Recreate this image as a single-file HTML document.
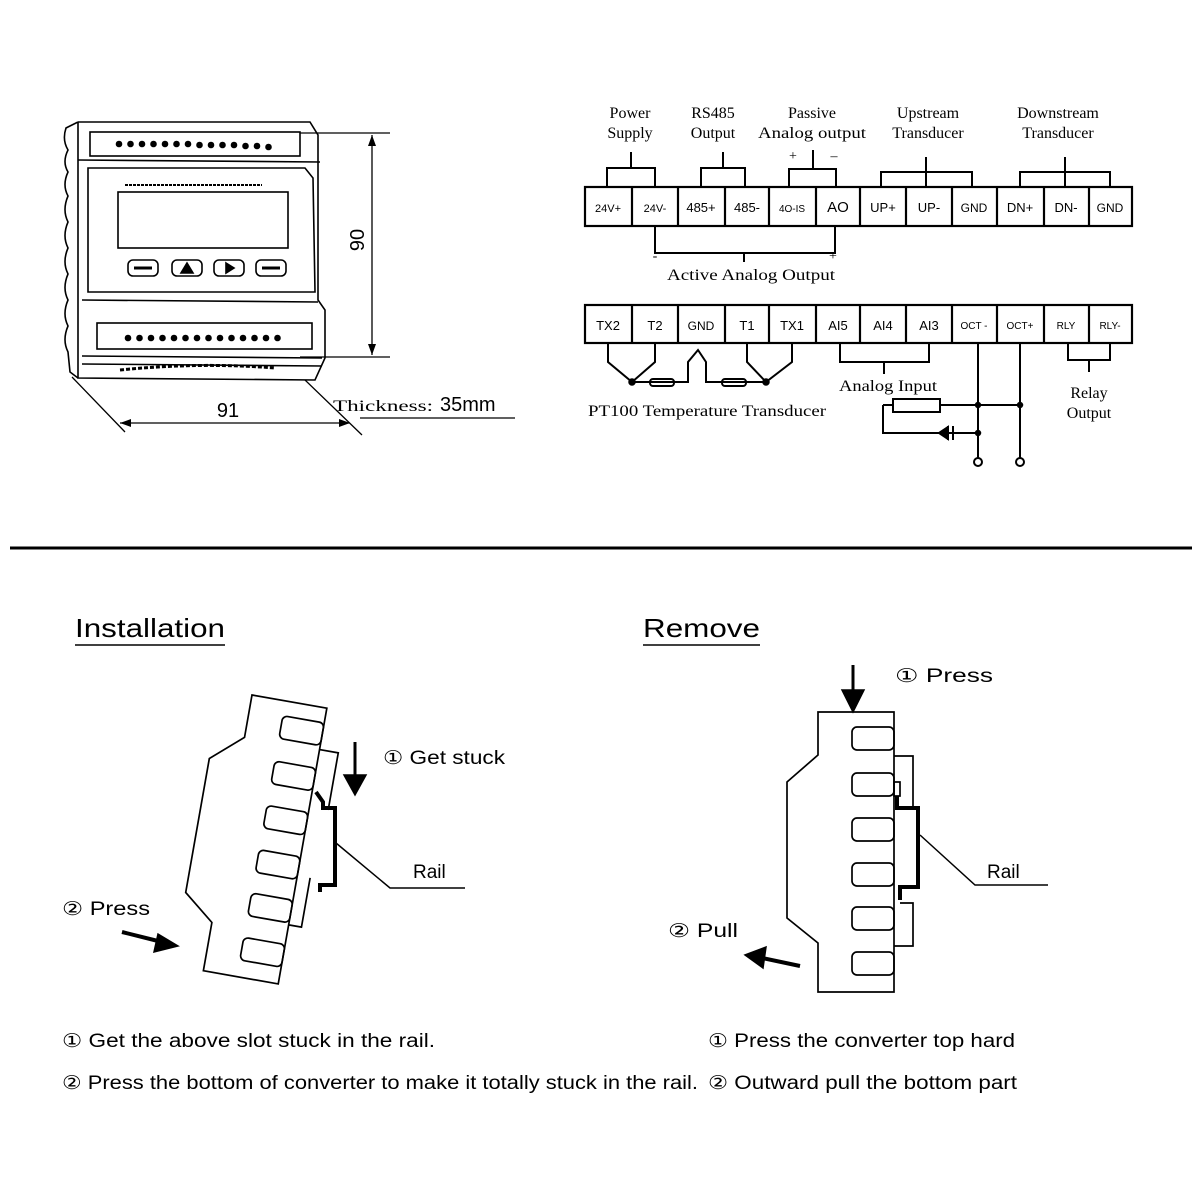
<!DOCTYPE html>
<html><head><meta charset="utf-8"><style>
html,body{margin:0;padding:0;background:#fff;}
svg{display:block;}
.s{font-family:"Liberation Serif",serif;}
.a{font-family:"Liberation Sans",sans-serif;}
</style></head><body>
<svg width="1200" height="1200" viewBox="0 0 1200 1200" xmlns="http://www.w3.org/2000/svg" stroke="#000" fill="none" stroke-width="1.5">
<rect x="0" y="0" width="1200" height="1200" fill="#fff" stroke="none"/>

<g stroke-width="1.6">
  <path d="M78 122 L66 128 Q62 140 68 150 Q62 162 68 172 Q62 185 68 196 Q62 210 68 222 Q62 236 68 248 Q62 262 68 274 Q62 288 68 300 Q62 314 68 326 Q62 340 68 352 L70 372 L78 378"/>
  <path d="M78 122 L310 122 L318 135 L318 300 L325 310 L325 358 L315 380 L78 378 L78 122"/>
  <path d="M78 160 L320 162"/>
  <rect x="90" y="132" width="210" height="24"/>
  <path d="M88 168 L305 168 L313 178 L315 292 L88 292 Z"/>
  <path d="M82 300 L318 302"/>
  <rect x="97" y="323" width="215" height="26"/>
  <path d="M82 356 L322 358"/>
  <path d="M82 364 L322 366"/>
  <rect x="118" y="192" width="170" height="56"/>
  <rect x="128" y="260" width="30" height="16" rx="5"/>
  <rect x="172" y="260" width="30" height="16" rx="5"/>
  <rect x="214" y="260" width="30" height="16" rx="5"/>
  <rect x="256" y="260" width="30" height="16" rx="5"/>
  <path d="M134 268 L152 268" stroke-width="3"/>
  <path d="M187 263 L181 273 L193 273 Z" fill="#000"/>
  <path d="M226 263 L234 268 L226 273 Z" fill="#000"/>
  <path d="M262 268 L280 268" stroke-width="3"/>
  <path d="M125 185 L262 185" stroke-width="2" stroke-dasharray="3 1"/>
  <path d="M120 370 Q200 362 275 368" stroke-width="3" stroke-dasharray="4 2"/>
</g>
<g fill="#000" stroke="none">
  <circle cx="119" cy="144" r="3.3"/><circle cx="130.5" cy="144" r="3.3"/><circle cx="142" cy="144" r="3.3"/><circle cx="153.5" cy="144" r="3.3"/><circle cx="165" cy="144" r="3.3"/><circle cx="176.5" cy="144" r="3.3"/><circle cx="188" cy="144" r="3.3"/><circle cx="199.5" cy="145" r="3.3"/><circle cx="211" cy="145" r="3.3"/><circle cx="222.5" cy="145" r="3.3"/><circle cx="234" cy="145" r="3.3"/><circle cx="245.5" cy="146" r="3.3"/><circle cx="257" cy="146" r="3.3"/><circle cx="268.5" cy="147" r="3.3"/>
  <circle cx="128" cy="338" r="3.3"/><circle cx="139.5" cy="338" r="3.3"/><circle cx="151" cy="338" r="3.3"/><circle cx="162.5" cy="338" r="3.3"/><circle cx="174" cy="338" r="3.3"/><circle cx="185.5" cy="338" r="3.3"/><circle cx="197" cy="338" r="3.3"/><circle cx="208.5" cy="338" r="3.3"/><circle cx="220" cy="338" r="3.3"/><circle cx="231.5" cy="338" r="3.3"/><circle cx="243" cy="338" r="3.3"/><circle cx="254.5" cy="338" r="3.3"/><circle cx="266" cy="338" r="3.3"/><circle cx="277.5" cy="338" r="3.3"/>
</g>
<g stroke-width="1.3">
  <path d="M300 133 L390 133 M300 357 L390 357 M372 135 L372 355"/>
  <path d="M72 377 L125 432 M305 380 L362 435 M120 423 L350 423"/>
  <path d="M360 418 L515 418"/>
</g>
<path d="M372 135 L368 146 L376 146 Z M372 355 L368 344 L376 344 Z M120 423 L131 419 L131 427 Z M350 423 L339 419 L339 427 Z" fill="#000" stroke="none"/>
<text class="a" x="0" y="0" font-size="20" fill="#000" stroke="none" transform="translate(364,240) rotate(-90)" text-anchor="middle">90</text>
<text class="a" x="228" y="417" font-size="20" fill="#000" stroke="none" text-anchor="middle">91</text>
<text class="s" x="333" y="411" font-size="16" fill="#000" stroke="none" textLength="100" lengthAdjust="spacingAndGlyphs">Thickness:</text>
<text class="a" x="440" y="411" font-size="20" fill="#000" stroke="none">35mm</text>

<g class="s" font-size="16" fill="#000" stroke="none" text-anchor="middle">
  <text x="630" y="118">Power</text><text x="630" y="138">Supply</text>
  <text x="713" y="118">RS485</text><text x="713" y="138">Output</text>
  <text x="812" y="118">Passive</text><text x="812" y="138" textLength="108" lengthAdjust="spacingAndGlyphs">Analog output</text>
  <text x="928" y="118">Upstream</text><text x="928" y="138">Transducer</text>
  <text x="1058" y="118">Downstream</text><text x="1058" y="138">Transducer</text>
  <text x="751" y="280" textLength="168" lengthAdjust="spacingAndGlyphs">Active Analog Output</text>
  <text x="707" y="416" textLength="238" lengthAdjust="spacingAndGlyphs">PT100 Temperature Transducer</text>
  <text x="888" y="391" textLength="98" lengthAdjust="spacingAndGlyphs">Analog Input</text>
  <text x="1089" y="398">Relay</text><text x="1089" y="418">Output</text>
  <text x="793" y="160" font-size="14">+</text><text x="834" y="160" font-size="14">–</text>
  <text x="655" y="260" font-size="14">-</text><text x="833" y="260" font-size="14">+</text>
</g>
<g stroke-width="2.2">
  <rect x="585" y="187" width="547" height="39"/>
  <path d="M632 187V226 M678 187V226 M725 187V226 M769 187V226 M816 187V226 M860 187V226 M906 187V226 M952 187V226 M997 187V226 M1044 187V226 M1089 187V226"/>
  <rect x="585" y="305" width="547" height="38"/>
  <path d="M632 305V343 M678 305V343 M725 305V343 M769 305V343 M816 305V343 M860 305V343 M906 305V343 M952 305V343 M997 305V343 M1044 305V343 M1089 305V343"/>
</g>
<g class="a" font-size="13" fill="#000" stroke="none" text-anchor="middle">
  <text x="608" y="212" font-size="11">24V+</text><text x="655" y="212" font-size="11">24V-</text><text x="701" y="212">485+</text><text x="747" y="212">485-</text><text x="792" y="212" font-size="10">4O-IS</text><text x="838" y="212" font-size="15">AO</text><text x="883" y="212">UP+</text><text x="929" y="212">UP-</text><text x="974" y="212" font-size="12">GND</text><text x="1020" y="212">DN+</text><text x="1066" y="212">DN-</text><text x="1110" y="212" font-size="12">GND</text>
  <text x="608" y="330">TX2</text><text x="655" y="330">T2</text><text x="701" y="330" font-size="12">GND</text><text x="747" y="330">T1</text><text x="792" y="330">TX1</text><text x="838" y="330">AI5</text><text x="883" y="330">AI4</text><text x="929" y="330">AI3</text><text x="974" y="329" font-size="10">OCT -</text><text x="1020" y="329" font-size="10">OCT+</text><text x="1066" y="329" font-size="10">RLY</text><text x="1110" y="329" font-size="10">RLY-</text>
</g>
<g stroke-width="2">
  <path d="M607 187V168H655V187 M631 168V152"/>
  <path d="M701 187V168H745V187 M723 168V152"/>
  <path d="M789 187V169H836V187 M813 169V150"/>
  <path d="M881 187V172H972V187 M926 172V157 M926 187V172"/>
  <path d="M1020 187V172H1110V187 M1065 172V157 M1065 187V172"/>
  <path d="M655 226V253H835V226 M744 253V262"/>
  <path d="M608 343V362L632 382L655 362V343"/>
  <path d="M747 343V362L766 382L792 362V343"/>
  <path d="M632 382H688V362L698 350L706 362V382H766"/>
  <rect x="650" y="379" width="24" height="7" rx="3"/>
  <rect x="722" y="379" width="24" height="7" rx="3"/>
  <path d="M840 343V362H929V343 M884 362V374"/>
  <path d="M978 343V458 M1020 343V458"/>
  <path d="M883 405H1020 M883 405V433H978"/>
  <rect x="893" y="399" width="47" height="13" fill="#fff"/>
  <path d="M939 433L948 427V439Z" fill="#000"/>
  <path d="M948 426V440 M953 426V440"/>
  <path d="M1068 343V360H1110V343 M1089 360V372"/>
</g>
<circle cx="978" cy="462" r="4" fill="#fff" stroke-width="2"/>
<circle cx="1020" cy="462" r="4" fill="#fff" stroke-width="2"/>
<circle cx="632" cy="382" r="3" fill="#000"/><circle cx="766" cy="382" r="3" fill="#000"/>
<circle cx="978" cy="405" r="2.5" fill="#000"/><circle cx="1020" cy="405" r="2.5" fill="#000"/><circle cx="978" cy="433" r="2.5" fill="#000"/>

<path d="M10 548H1192" stroke-width="3"/>

<g class="a" fill="#000" stroke="none">
  <text x="75" y="637" font-size="26" textLength="150" lengthAdjust="spacingAndGlyphs">Installation</text>
  <text x="643" y="637" font-size="26" textLength="117" lengthAdjust="spacingAndGlyphs">Remove</text>
  <text x="383" y="764" font-size="19" textLength="122" lengthAdjust="spacingAndGlyphs">① Get stuck</text>
  <text x="413" y="878" font-size="19">Rail</text>
  <text x="62" y="915" font-size="19" textLength="88" lengthAdjust="spacingAndGlyphs">② Press</text>
  <text x="895" y="682" font-size="19" textLength="98" lengthAdjust="spacingAndGlyphs">①  Press</text>
  <text x="987" y="878" font-size="19">Rail</text>
  <text x="668" y="937" font-size="19" textLength="70" lengthAdjust="spacingAndGlyphs">② Pull</text>
  <text x="62" y="1047" font-size="19" textLength="373" lengthAdjust="spacingAndGlyphs">①  Get the above slot stuck in the rail.</text>
  <text x="62" y="1089" font-size="19" textLength="636" lengthAdjust="spacingAndGlyphs">② Press the bottom of converter to make it totally stuck in the rail.</text>
  <text x="708" y="1047" font-size="19" textLength="307" lengthAdjust="spacingAndGlyphs">① Press the converter top hard</text>
  <text x="708" y="1089" font-size="19" textLength="309" lengthAdjust="spacingAndGlyphs">② Outward pull the bottom part</text>
</g>
<path d="M75 645H225 M643 645H760" stroke-width="1.5"/>

<g transform="translate(252,695) rotate(10) translate(-818,-712)" stroke-width="1.7">
  <path d="M818 712H894V992H818V943L787 918V782L818 755Z"/>
  <rect x="852" y="727" width="42" height="23" rx="5"/>
  <rect x="852" y="773" width="42" height="23" rx="5"/>
  <rect x="852" y="818" width="42" height="23" rx="5"/>
  <rect x="852" y="863" width="42" height="23" rx="5"/>
  <rect x="852" y="907" width="42" height="23" rx="5"/>
  <rect x="852" y="952" width="42" height="23" rx="5"/>
  <path d="M894 754H913V812 M894 932H907V882"/>
</g>
<path d="M316 792L323 802V808H335V885H320V892" stroke-width="4"/>
<path d="M336 843L390 888H465" stroke-width="1.5"/>
<path d="M355 742V780" stroke-width="3"/><path d="M344 775L366 775L355 795Z" fill="#000"/>
<path d="M122 932L162 942" stroke-width="4"/><path d="M178 946L158 934L154 952Z" fill="#000"/>

<g stroke-width="1.7">
  <path d="M818 712H894V992H818V943L787 918V782L818 755Z"/>
  <rect x="852" y="727" width="42" height="23" rx="5"/>
  <rect x="852" y="773" width="42" height="23" rx="5"/>
  <rect x="852" y="818" width="42" height="23" rx="5"/>
  <rect x="852" y="863" width="42" height="23" rx="5"/>
  <rect x="852" y="907" width="42" height="23" rx="5"/>
  <rect x="852" y="952" width="42" height="23" rx="5"/>
  <path d="M894 756H913V810 M894 946H913V903H900"/>
  <rect x="894" y="782" width="6" height="14"/>
</g>
<path d="M897 796V808H918V887H900V900" stroke-width="4"/>
<path d="M920 835L975 885H1048" stroke-width="1.5"/>
<path d="M853 665V695" stroke-width="3"/><path d="M842 690L864 690L853 712Z" fill="#000"/>
<path d="M800 966L762 958" stroke-width="4"/><path d="M745 955L766 947L763 968Z" fill="#000"/>
</svg>
</body></html>
